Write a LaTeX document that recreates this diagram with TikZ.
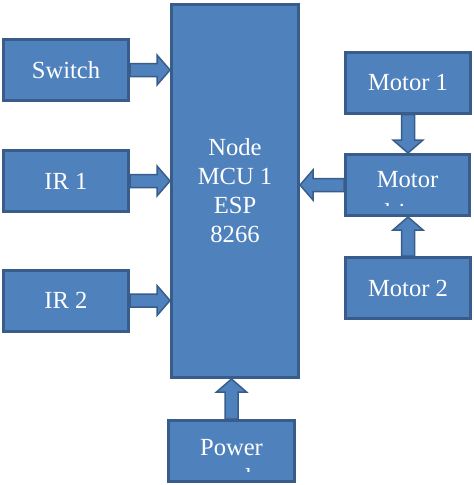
\documentclass[tikz,border=0pt]{standalone}
\usepackage{fontspec}
\setmainfont{Liberation Serif}
\usetikzlibrary{calc}

\definecolor{boxblue}{HTML}{4F81BD}
\definecolor{boxline}{HTML}{385D8A}

\tikzset{
	block/.style={draw=boxline, fill=boxblue, line width=3pt, text=white, inner sep=0pt,
		font=\fontsize{24.6}{29}\selectfont, minimum width=125pt, minimum height=61pt},
	btext/.style={text=white, inner sep=0pt, font=\fontsize{24.6}{29}\selectfont},
	barrow/.style={draw=boxline, fill=boxblue, line width=1.5pt,
		to path={
			coordinate (hb) at ($(\tikztotarget)!13pt!(\tikztostart)$)
			($(\tikztostart)!6.5pt!90:(\tikztotarget)$)
			-- ($(hb)!6.5pt!90:(\tikztotarget)$)
			-- ($(hb)!15pt!90:(\tikztotarget)$)
			-- (\tikztotarget)
			-- ($(hb)!15pt!-90:(\tikztotarget)$)
			-- ($(hb)!6.5pt!-90:(\tikztotarget)$)
			-- ($(\tikztostart)!6.5pt!-90:(\tikztotarget)$)
			-- cycle}}
}

\begin{document}
\begin{tikzpicture}[x=1pt, y=-1pt]
	\useasboundingbox (0, 0) rectangle (474, 485);

	% controller
	\node[block, minimum width=127pt, minimum height=373pt, align=center] (MCU) at (235, 191) {Node\\MCU 1\\ESP\\8266};

	% inputs
	\node[block] (Sw) at (66, 70) {Switch};
	\node[block] (IRa) at (66, 181) {IR 1};
	\node[block] (IRb) at (66, 300.5) {IR 2};

	% motors
	\node[block] (Ma) at (408, 82.5) {Motor 1};
	\node[block, minimum width=124pt] (Drv) at (407.5, 185) {};
	\node[block] (Mb) at (408, 288) {Motor 2};

	% supply
	\node[block, minimum width=126pt] (Pwr) at (231.5, 451) {};

	% texts that do not fit their box
	\node[btext, anchor=base] (drvtop) at ($(Drv.center)+(0, 2)$) {Motor};
	\begin{scope}
		\clip ($(Drv.north west)+(3, 3)$) rectangle ($(Drv.south east)+(-3, -12)$);
		\node[btext, anchor=base] (drvlow) at ($(Drv.center)+(0, 35.5)$) {driver};
	\end{scope}
	\node[btext, anchor=base] (pwrtop) at ($(Pwr.center)+(0, 4)$) {Power};
	\begin{scope}
		\clip ($(Pwr.north west)+(3, 3)$) rectangle ($(Pwr.south east)+(-3, -12)$);
		\node[btext, anchor=base] (pwrlow) at ($(Pwr.center)+(0, 34)$) {supply};
	\end{scope}

	% arrow tips
	\coordinate (inSw) at (Sw.east -| MCU.west);
	\coordinate (inIRa) at (IRa.east -| MCU.west);
	\coordinate (inIRb) at (IRb.east -| MCU.west);
	\coordinate (inDrv) at (Drv.west -| MCU.east);
	\coordinate (inPwr) at (Pwr.north |- MCU.south);
	\coordinate (inMa) at (Ma.south |- Drv.north);
	\coordinate (inMb) at (Mb.north |- Drv.south);

	\draw[barrow] (Sw.east) to (inSw);
	\draw[barrow] (IRa.east) to (inIRa);
	\draw[barrow] (IRb.east) to (inIRb);
	\draw[barrow] (Drv.west) to (inDrv);
	\draw[barrow] (Pwr.north) to (inPwr);
	\draw[barrow] (Ma.south) to (inMa);
	\draw[barrow] (Mb.north) to (inMb);
\end{tikzpicture}
\end{document}
